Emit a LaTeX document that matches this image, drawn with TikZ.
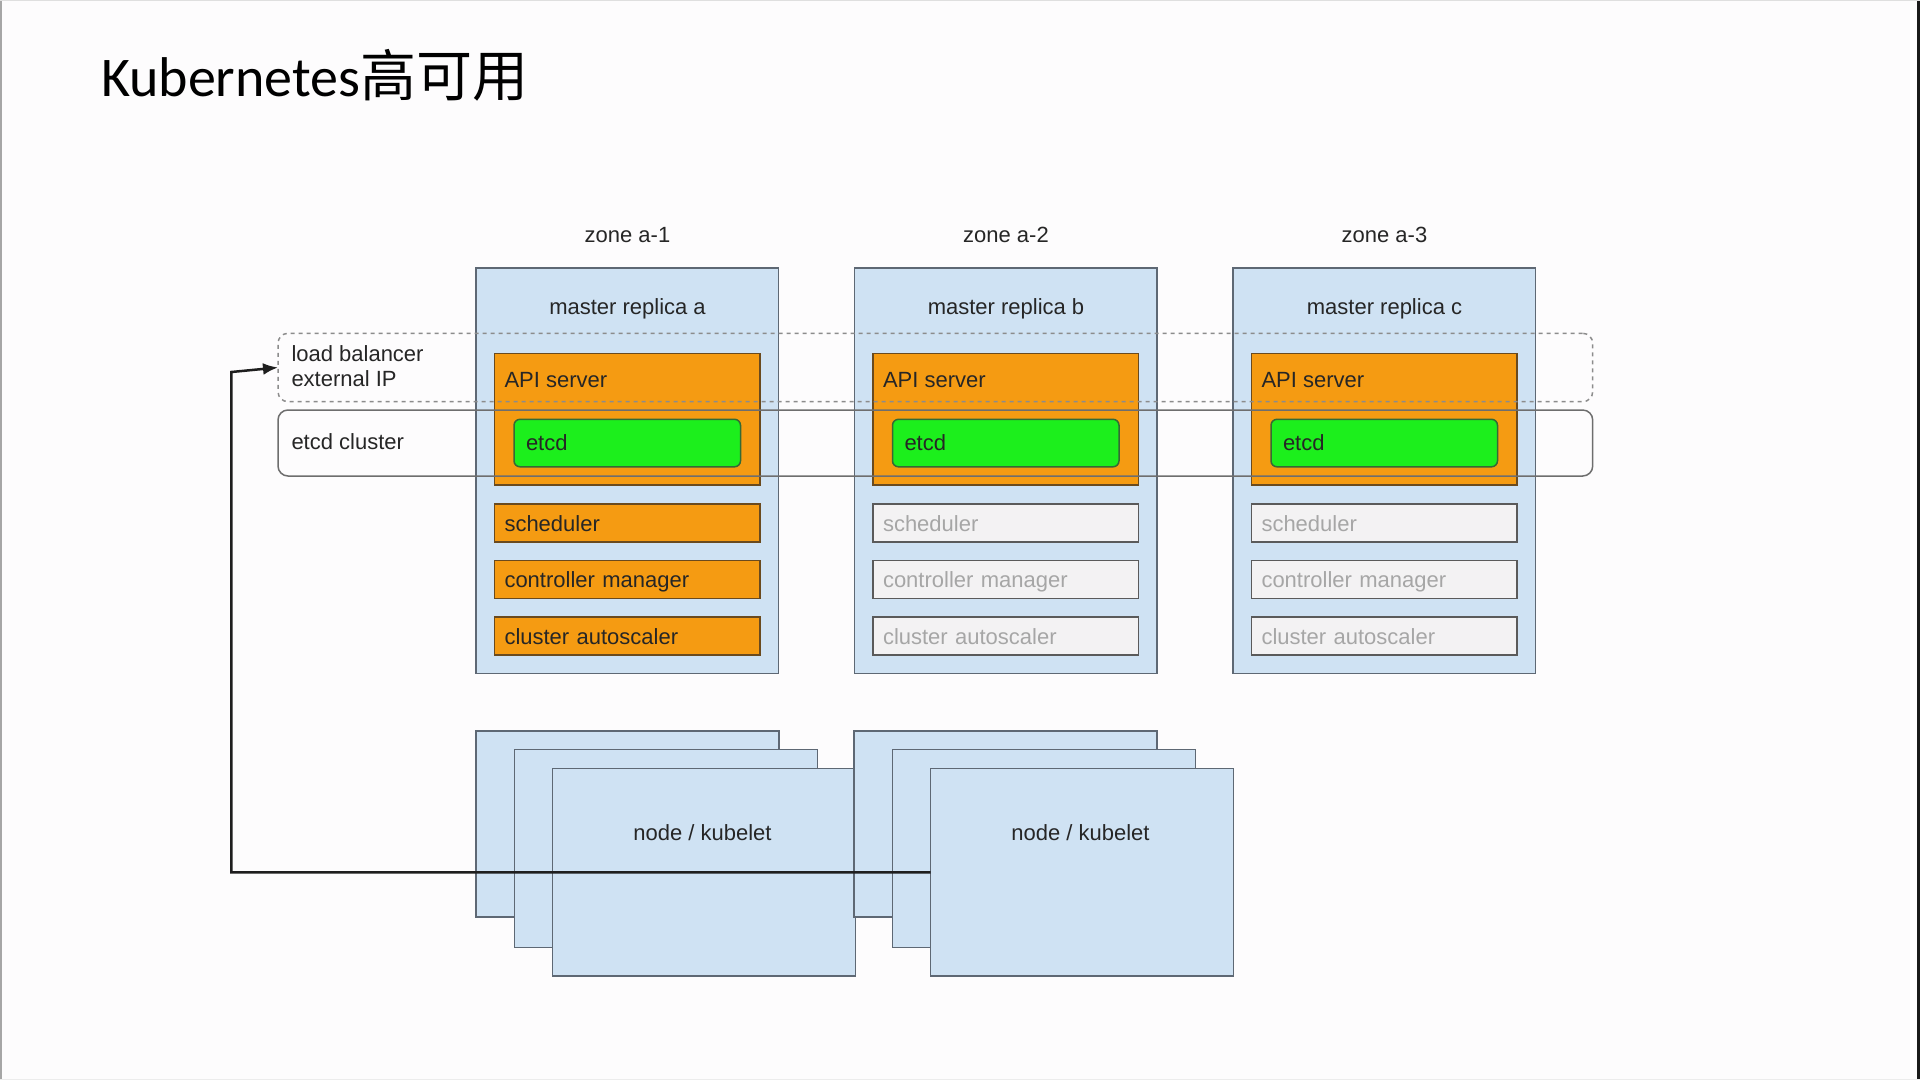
\documentclass[tikz,border=0pt]{standalone}
\usepackage{fontspec}
\setmainfont{Liberation Sans}
\newfontfamily\titlefont{Carlito}
\newfontfamily\cjkfont{Noto Sans CJK SC}
\usetikzlibrary{arrows.meta}
\definecolor{bg}{HTML}{FDFCFD}
\definecolor{mfill}{HTML}{CFE2F3}
\definecolor{mborder}{HTML}{5E6874}
\definecolor{orange1}{HTML}{F59B12}
\definecolor{oborder}{HTML}{6A4A1E}
\definecolor{green1}{HTML}{1CEF1C}
\definecolor{gborder}{HTML}{356A35}
\definecolor{grayfill}{HTML}{F3F2F3}
\definecolor{gborder2}{HTML}{5A5A5A}
\definecolor{graytext}{HTML}{A6A6A6}
\definecolor{txt}{HTML}{262626}
\definecolor{lbline}{HTML}{8C8C8C}
\definecolor{ecline}{HTML}{6E6E6E}
\definecolor{conncol}{HTML}{1E1E1E}
\begin{document}
\begin{tikzpicture}[x=1pt,y=-1pt,
  font=\fontsize{22}{26}\selectfont,
  every node/.style={inner sep=0pt, outer sep=0pt},
  master/.style={draw=mborder, fill=mfill, line width=1.5pt, minimum width=302.5pt, minimum height=405.5pt, anchor=north west},
  apibox/.style={draw=oborder, fill=orange1, line width=1.5pt, minimum width=265.5pt, minimum height=131.5pt, anchor=north west},
  etcdbox/.style={draw=gborder, fill=green1, line width=1.5pt, rounded corners=6pt, minimum width=226.5pt, minimum height=47.5pt, anchor=north west},
  subbox/.style={line width=1.5pt, minimum width=265.5pt, minimum height=38pt, anchor=north west, text width=245.5pt, align=left, inner xsep=10pt, text height=16pt, text depth=0pt},
  subon/.style={draw=oborder, fill=orange1, text=txt},
  suboff/.style={draw=gborder2, fill=grayfill, text=graytext},
  lbl/.style={text=txt, anchor=base},
  nodebox/.style={draw=mborder, fill=mfill, line width=1.5pt, anchor=north west},
  outline/.style={line width=1.5pt, rounded corners=10pt, anchor=north west},
  conn/.style={draw=conncol, line width=2.5pt, -{Latex[length=15pt,width=12pt]}}
]
\useasboundingbox (0,0) rectangle (1920,1080);
\fill[bg] (0,0) rectangle (1920,1080);
\draw[line width=2pt, gray!70] (1,0) -- (1,1080);
\draw[line width=3pt, black!90] (1918.5,0) -- (1918.5,1080);
\draw[line width=1pt, gray!25] (0,0.5) -- (1920,0.5);
\draw[line width=1pt, gray!15] (0,1079.5) -- (1920,1079.5);

% title
\node[anchor=base west, text=black] (title) at (101,96)
  {\fontsize{56}{60}\selectfont\titlefont Kubernetes\cjkfont 高可用};

% master replicas
\foreach \c/\dx/\z/\st in {a/0/1/subon, b/378.5/2/suboff, c/757/3/suboff}{
  \node[lbl] (zone\c) at (627.5+\dx, 242) {zone a-\z};
  \node[master] (m\c) at (476+\dx, 268) {};
  \node[lbl] (mt\c) at (627.5+\dx, 314) {master replica \c};
  \node[apibox] (api\c) at (494.5+\dx, 353.5) {};
  \node[lbl, anchor=base west] (apit\c) at (504.5+\dx, 387) {API server};
  \node[etcdbox] (etcd\c) at (514+\dx, 419.3) {};
  \node[lbl, anchor=base west] (etcdt\c) at (526+\dx, 450) {etcd};
  \node[subbox,\st] (sch\c) at (494.5+\dx, 504) {scheduler};
  \node[subbox,\st] (cm\c) at (494.5+\dx, 560.5) {controller manager};
  \node[subbox,\st] (ca\c) at (494.5+\dx, 617) {cluster autoscaler};
}

% load balancer and etcd cluster outlines
\node[outline, draw=lbline, dash pattern=on 4pt off 4pt, minimum width=1314.7pt, minimum height=68.4pt] (lb) at (278,333.3) {};
\node[lbl, anchor=base west] (lbt1) at (291.5,361) {load balancer};
\node[lbl, anchor=base west] (lbt2) at (291.5,386.5) {external IP};
\node[outline, draw=ecline, minimum width=1314.7pt, minimum height=66pt] (ec) at (278,410) {};
\node[lbl, anchor=base west] (ect) at (291.5,449) {etcd cluster};

% node stacks
\foreach \s/\dx in {1/0, 2/378}{
  \node[nodebox, minimum width=303pt, minimum height=186pt] (n\s a) at (476+\dx,731) {};
  \node[nodebox, minimum width=303pt, minimum height=198pt] (n\s b) at (514.3+\dx,749.3) {};
  \node[nodebox, minimum width=302.6pt, minimum height=207.3pt] (n\s c) at (552.7+\dx,768.7) {};
  \node[lbl] (nt\s) at (702.5+\dx,840) {node / kubelet};
}

% connector
\coordinate (turn) at (231.4,372);
\draw[conn] (n2c.west) -| (turn) -- (lb.west);
\end{tikzpicture}
\end{document}
